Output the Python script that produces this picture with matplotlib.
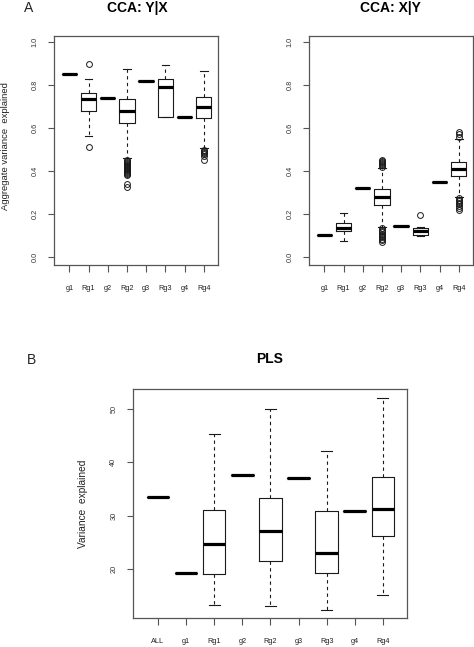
import matplotlib
matplotlib.use('Agg')
import matplotlib.pyplot as plt

plt.rcParams['font.family'] = ['Liberation Sans', 'DejaVu Sans']

# ---------------- data ----------------
cca_labels = ['g1', 'Rg1', 'g2', 'Rg2', 'g3', 'Rg3', 'g4', 'Rg4']

# CCA: Y|X
yx_lo  = [0.851, 0.562, 0.741, 0.459, 0.821, 0.653, 0.651, 0.505]
yx_q1  = [0.851, 0.679, 0.741, 0.622, 0.821, 0.653, 0.651, 0.647]
yx_med = [0.851, 0.733, 0.741, 0.679, 0.821, 0.792, 0.651, 0.699]
yx_q3  = [0.851, 0.764, 0.741, 0.735, 0.821, 0.828, 0.651, 0.746]
yx_hi  = [0.851, 0.826, 0.741, 0.874, 0.821, 0.893, 0.651, 0.864]
yx_fliers = [
    [],
    [0.896, 0.512],
    [],
    [0.452, 0.447, 0.443, 0.438, 0.434, 0.429, 0.425, 0.420, 0.416, 0.411,
     0.406, 0.402, 0.397, 0.392, 0.387, 0.382, 0.342, 0.326],
    [],
    [],
    [],
    [0.498, 0.492, 0.487, 0.482, 0.477, 0.471, 0.452],
]

# CCA: X|Y
xy_lo  = [0.101, 0.075, 0.321, 0.138, 0.143, 0.098, 0.349, 0.281]
xy_q1  = [0.101, 0.120, 0.321, 0.242, 0.143, 0.102, 0.349, 0.377]
xy_med = [0.101, 0.137, 0.321, 0.281, 0.143, 0.121, 0.349, 0.409]
xy_q3  = [0.101, 0.158, 0.321, 0.315, 0.143, 0.136, 0.349, 0.443]
xy_hi  = [0.101, 0.205, 0.321, 0.412, 0.143, 0.138, 0.349, 0.549]
xy_fliers = [
    [],
    [],
    [],
    [0.451, 0.446, 0.441, 0.436, 0.431, 0.426, 0.421,
     0.133, 0.127, 0.121, 0.115, 0.109, 0.103, 0.097, 0.091, 0.085, 0.078, 0.072],
    [],
    [0.195],
    [],
    [0.583, 0.571, 0.560, 0.273, 0.267, 0.260, 0.253, 0.245, 0.237, 0.228, 0.219],
]

# PLS
pls_labels = ['ALL', 'g1', 'Rg1', 'g2', 'Rg2', 'g3', 'Rg3', 'g4', 'Rg4']
pls_lo  = [33.56, 19.19, 13.31, 37.69, 13.13, 37.00, 12.38, 30.94, 15.19]
pls_q1  = [33.56, 19.19, 19.06, 37.69, 21.56, 37.00, 19.19, 30.94, 26.25]
pls_med = [33.56, 19.19, 24.75, 37.69, 27.19, 37.00, 22.94, 30.94, 31.25]
pls_q3  = [33.56, 19.19, 31.06, 37.69, 33.25, 37.00, 30.81, 30.94, 37.19]
pls_hi  = [33.56, 19.19, 45.25, 37.69, 50.00, 37.00, 42.13, 30.94, 52.13]
pls_fliers = [[] for _ in pls_labels]

# ---------------- figure ----------------
W, H = 474, 647
fig = plt.figure(figsize=(W / 100, H / 100), dpi=100)

def px_axes(x0, y0, x1, y1):
    return fig.add_axes([x0 / W, 1 - y1 / H, (x1 - x0) / W, (y1 - y0) / H])

LINE = '#1a1a1a'
FRAME = '#555555'

def draw(ax, labels, lo, q1, med, q3, hi, fliers, xlim, ylim, yticks, yticklabels):
    stats = []
    for i, lab in enumerate(labels):
        stats.append(dict(label=lab, whislo=lo[i], q1=q1[i], med=med[i],
                          q3=q3[i], whishi=hi[i], fliers=fliers[i]))
    ax.bxp(stats, positions=range(1, len(labels) + 1), widths=0.8,
           capwidths=0.4, showfliers=True,
           boxprops=dict(color=LINE, linewidth=0.8),
           medianprops=dict(color='black', linewidth=2.3, solid_capstyle='butt'),
           whiskerprops=dict(color=LINE, linewidth=0.8, linestyle=(0, (3, 3))),
           capprops=dict(color=LINE, linewidth=0.8),
           flierprops=dict(marker='o', markersize=4.2, markerfacecolor='none',
                           markeredgecolor=LINE, markeredgewidth=0.7,
                           linestyle='none'))
    ax.set_xlim(*xlim)
    ax.set_ylim(*ylim)
    ax.set_xticks(range(1, len(labels) + 1))
    ax.set_xticklabels(labels)
    ax.set_yticks(yticks)
    ax.set_yticklabels(yticklabels)
    for s in ax.spines.values():
        s.set_color(FRAME)
        s.set_linewidth(0.9)
    ax.tick_params(axis='x', length=5, width=0.8, color=FRAME, pad=9.5,
                   labelsize=5.3, labelcolor='#222222')
    ax.tick_params(axis='y', length=4.3, width=0.8, color=FRAME, pad=7,
                   labelsize=5.3, labelcolor='#333333', labelrotation=90)
    for t in ax.get_yticklabels():
        t.set_va('center')

ya = [0.0, 0.2, 0.4, 0.6, 0.8, 1.0]
yal = ['0.0', '0.2', '0.4', '0.6', '0.8', '1.0']

ax1 = px_axes(54, 36, 218, 265)
draw(ax1, cca_labels, yx_lo, yx_q1, yx_med, yx_q3, yx_hi, yx_fliers,
     (0.20, 8.74), (-0.037, 1.028), ya, yal)

ax2 = px_axes(309, 36, 473, 265)
draw(ax2, cca_labels, xy_lo, xy_q1, xy_med, xy_q3, xy_hi, xy_fliers,
     (0.20, 8.74), (-0.037, 1.028), ya, yal)

ax3 = px_axes(133, 389, 407, 618)
draw(ax3, pls_labels, pls_lo, pls_q1, pls_med, pls_q3, pls_hi, pls_fliers,
     (0.11, 9.86), (10.81, 53.75), [20, 30, 40, 50], ['20', '30', '40', '50'])

def ftext(x, y, s, **kw):
    fig.text(x / W, 1 - y / H, s, ha='center', va='center', **kw)

ftext(137, 8, 'CCA: Y|X', fontsize=10, fontweight='bold')
ftext(390, 8, 'CCA: X|Y', fontsize=10, fontweight='bold')
ftext(270, 359, 'PLS', fontsize=10, fontweight='bold')
ftext(29, 8, 'A', fontsize=10, color='#222222')
ftext(32, 360, 'B', fontsize=10, color='#222222')
ftext(6, 146, 'Aggregate variance  explained', fontsize=6.8, rotation=90,
      color='#222222')
ftext(83, 504, 'Variance  explained', fontsize=7.3, rotation=90, color='#222222')

fig.savefig('out.png', dpi=100)
